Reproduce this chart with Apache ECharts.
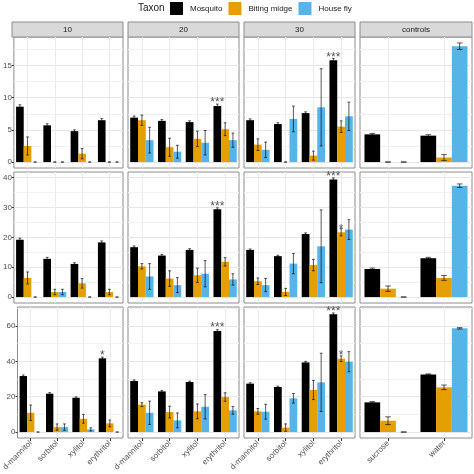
<!DOCTYPE html>
<html>
<head>
<meta charset="utf-8">
<script src="https://cdn.jsdelivr.net/npm/echarts@6/dist/echarts.min.js"></script>
<style>
html, body { margin: 0; padding: 0; background: #fff; }
#chart { width: 474px; height: 474px; }
</style>
</head>
<body>
<div id="chart"></div>
<script>
const taxa = ['Mosquito', 'Biting midge', 'House fly'];
const facets = ['10', '20', '30', 'controls'];
const sugars = ['d-mannitol', 'sorbitol', 'xylitol', 'erythritol'];
const controls = ['sucrose', 'water'];

// order of every array: 10 (4 sugars), 20 (4 sugars), 30 (4 sugars), controls (sucrose, water)
const row1Mosquito   = [8.6, 5.7, 4.8, 6.5,  6.9, 6.4, 6.2, 8.7,  6.5, 5.9, 7.6, 15.8,  4.3, 4.1];
const row1MosquitoSe = [0.3, 0.25, 0.2, 0.25, 0.25, 0.2, 0.2, 0.3, 0.2, 0.2, 0.2, 0.3, 0.15, 0.15];
const row1Midge      = [2.5, 0, 1.3, 0,  6.5, 2.3, 3.6, 5.1,  2.7, 0, 1.0, 5.5,  0, 0.7];
const row1MidgeSe    = [1.4, 0, 0.8, 0,  0.8, 1.4, 1.2, 1.0,  0.9, 0, 0.7, 0.9,  0, 0.45];
const row1Fly        = [0, 0, 0, 0,  3.4, 1.6, 3.0, 3.4,  1.9, 6.7, 8.5, 7.1,  0, 18.0];
const row1FlySe      = [0, 0, 0, 0,  2.0, 1.0, 1.9, 1.1,  1.2, 2.0, 6.0, 2.2,  0, 0.5];

const row2Mosquito   = [19.2, 12.8, 11.1, 18.3,  16.7, 13.9, 15.8, 29.4,  15.8, 13.7, 21.1, 39.4,  9.4, 13.0];
const row2MosquitoSe = [0.5, 0.5, 0.4, 0.5,  0.4, 0.4, 0.4, 0.5,  0.3, 0.3, 0.4, 0.5,  0.3, 0.3];
const row2Midge      = [6.4, 1.7, 4.6, 1.7,  10.3, 6.2, 7.3, 11.8,  5.3, 1.7, 10.7, 21.7,  2.8, 6.4];
const row2MidgeSe    = [2.0, 0.9, 1.6, 0.9,  0.9, 2.6, 2.4, 1.4,  1.1, 1.2, 1.9, 1.2,  0.9, 0.8];
const row2Fly        = [0, 1.7, 0, 0,  6.9, 4.0, 7.8, 5.9,  4.0, 11.2, 17.0, 22.6,  0, 37.3];
const row2FlySe      = [0, 0.9, 0, 0,  4.3, 2.5, 4.4, 1.9,  2.2, 3.4, 12.2, 3.3,  0, 0.6];

const row3Mosquito   = [31.7, 21.7, 19.4, 41.7,  28.9, 23.0, 28.3, 57.2,  27.4, 25.5, 39.4, 66.6,  16.8, 32.6];
const row3MosquitoSe = [0.6, 0.6, 0.5, 0.7,  0.6, 0.6, 0.5, 0.7,  0.5, 0.5, 0.6, 0.8,  0.4, 0.3];
const row3Midge      = [10.9, 2.8, 7.5, 4.9,  15.5, 11.3, 11.7, 19.8,  11.7, 2.5, 23.8, 41.5,  6.4, 25.3];
const row3MidgeSe    = [4.4, 1.8, 2.5, 1.9,  1.1, 3.3, 4.2, 2.4,  1.6, 2.1, 5.4, 1.6,  2.2, 1.3];
const row3Fly        = [0, 2.8, 1.5, 0,  10.9, 6.6, 14.3, 12.3,  11.5, 19.1, 28.1, 39.8,  0, 58.7];
const row3FlySe      = [0, 1.8, 0.9, 0,  6.6, 4.2, 6.9, 2.2,  4.2, 2.7, 16.5, 5.7,  0, 0.4];

// significance marks
const row1MosquitoSig = ['', '', '', '',  '', '', '', '***',  '', '', '', '***',  '', ''];
const row2MosquitoSig = ['', '', '', '',  '', '', '', '***',  '', '', '', '***',  '', ''];
const row3MosquitoSig = ['', '', '', '*',  '', '', '', '***',  '', '', '', '***',  '', ''];
const row2MidgeSig    = ['', '', '', '',  '', '', '', '',  '', '', '', '*',  '', ''];
const row3MidgeSig    = ['', '', '', '',  '', '', '', '',  '', '', '', '*',  '', ''];
const noSig = ['', '', '', '', '', '', '', '', '', '', '', '', '', ''];

const yTicksRow1 = [0, 5, 10, 15];
const yTicksRow2 = [0, 10, 20, 30, 40];
const yTicksRow3 = [0, 20, 40, 60];

const rows = [
    { mean: [row1Mosquito, row1Midge, row1Fly], se: [row1MosquitoSe, row1MidgeSe, row1FlySe], sig: [row1MosquitoSig, noSig, noSig], ticks: yTicksRow1 },
    { mean: [row2Mosquito, row2Midge, row2Fly], se: [row2MosquitoSe, row2MidgeSe, row2FlySe], sig: [row2MosquitoSig, row2MidgeSig, noSig], ticks: yTicksRow2 },
    { mean: [row3Mosquito, row3Midge, row3Fly], se: [row3MosquitoSe, row3MidgeSe, row3FlySe], sig: [row3MosquitoSig, row3MidgeSig, noSig], ticks: yTicksRow3 }
];

const taxonColors = ['#000000', '#E69F00', '#56B4E9'];
const font = "'Liberation Sans', Arial, sans-serif";

// panel layout
const colX = [12, 128, 244, 360];
const panelW = [111, 111, 111, 112];
const rowY = [37, 172, 307];
const panelH = 131;
const facetStart = [0, 4, 8, 12];

let grids = [], xAxes = [], yAxes = [], series = [], graphics = [];

rows.forEach((row, r) => {
    // y range: data range + 5% on both sides
    let top = 0;
    row.mean.forEach((arr, t) => arr.forEach((v, i) => { top = Math.max(top, v + row.se[t][i]); }));
    const yMin = -0.05 * top;
    const yMax = 1.05 * top;
    const step = row.ticks[1] - row.ticks[0];
    const minor = row.ticks.map(v => v + step / 2).filter(v => v <= yMax);

    facets.forEach((f, c) => {
        const g = grids.length;
        const cats = c < 3 ? sugars : controls;
        const from = facetStart[c];
        const to = from + cats.length;

        grids.push({
            left: colX[c], top: rowY[r], width: panelW[c], height: panelH,
            show: true, backgroundColor: '#fff', borderColor: '#8c8c8c', borderWidth: 1
        });

        xAxes.push({
            type: 'category', gridIndex: g, data: cats,
            axisLine: { show: false, onZero: false },
            axisTick: { show: r === 2, alignWithLabel: true, length: 3, lineStyle: { color: '#333' } },
            axisLabel: { show: r === 2, rotate: 45, fontSize: 8, color: '#4d4d4d', margin: 4, fontFamily: font },
            splitLine: { show: true, alignWithLabel: true, lineStyle: { color: '#ebebeb', width: 1 } }
        });

        // main y axis (labels, ticks, major lines)
        const yMain = yAxes.length;
        yAxes.push({
            type: 'value', gridIndex: g, min: yMin, max: yMax,
            axisLine: { show: false },
            axisTick: { show: c === 0, length: 2, customValues: row.ticks, lineStyle: { color: '#333' } },
            axisLabel: { show: c === 0, customValues: row.ticks, fontSize: 8, color: '#4d4d4d', margin: 2, fontFamily: font },
            splitLine: { show: true, lineStyle: { color: '#e6e6e6', width: 1 } }
        });
        // second y axis only for the minor lines
        yAxes.push({
            type: 'value', gridIndex: g, min: yMin, max: yMax, position: 'left',
            axisLine: { show: false },
            axisTick: { show: false, customValues: minor },
            axisLabel: { show: false },
            splitLine: { show: true, lineStyle: { color: '#f2f2f2', width: 1 } }
        });

        const errData = [];
        taxa.forEach((name, t) => {
            const vals = row.mean[t].slice(from, to);
            const ses = row.se[t].slice(from, to);
            const sigs = row.sig[t].slice(from, to);
            series.push({
                type: 'bar', name: name, xAxisIndex: g, yAxisIndex: yMain,
                barWidth: '28%', barGap: '0%',
                itemStyle: { color: taxonColors[t] },
                data: vals.map((v, i) => sigs[i] ? {
                    value: v,
                    label: { show: true, position: 'top', distance: -3, formatter: sigs[i], fontSize: 12, color: '#555', fontFamily: font }
                } : v)
            });
            vals.forEach((v, i) => errData.push([i, v, ses[i], t]));
        });

        // error bars
        series.push({
            type: 'custom', xAxisIndex: g, yAxisIndex: yMain, z: 5,
            data: errData,
            renderItem: function (params, api) {
                const ci = api.value(0), m = api.value(1), e = api.value(2), t = api.value(3);
                const band = api.size([1, 0])[0];
                const x = api.coord([ci, m])[0] + (t - 1) * band * 0.28;
                const y1 = api.coord([ci, m + e])[1];
                const y2 = api.coord([ci, m - e])[1];
                const hw = band * 0.05;
                const st = { stroke: 'rgba(0,0,0,0.65)', lineWidth: 1 };
                return {
                    type: 'group',
                    children: [
                        { type: 'line', shape: { x1: x, y1: y1, x2: x, y2: y2 }, style: st },
                        { type: 'line', shape: { x1: x - hw, y1: y1, x2: x + hw, y2: y1 }, style: st },
                        { type: 'line', shape: { x1: x - hw, y1: y2, x2: x + hw, y2: y2 }, style: st }
                    ]
                };
            }
        });
    });
});

// strips over the top row
facets.forEach((f, c) => {
    graphics.push({
        type: 'rect', shape: { x: colX[c], y: 22, width: panelW[c], height: 15 },
        style: { fill: '#d9d9d9', stroke: '#8c8c8c', lineWidth: 1 }
    });
    graphics.push({
        type: 'text', x: colX[c] + panelW[c] / 2, y: 29.5,
        style: { text: f, fill: '#1a1a1a', fontSize: 8, fontFamily: font, align: 'center', verticalAlign: 'middle' }
    });
});

const chart = echarts.init(document.getElementById('chart'));
chart.setOption({
    animation: false,
    textStyle: { fontFamily: font },
    title: { text: 'Taxon', left: 138, top: 3, padding: 0, textStyle: { fontSize: 10, fontWeight: 'normal', color: '#1a1a1a', fontFamily: font } },
    legend: {
        data: taxa, left: 170, top: 2, padding: 0, icon: 'rect',
        itemWidth: 13, itemHeight: 13, itemGap: 6, selectedMode: false,
        textStyle: { fontSize: 8, color: '#1a1a1a', padding: [0, 0, 0, 2], fontFamily: font }
    },
    grid: grids,
    xAxis: xAxes,
    yAxis: yAxes,
    series: series,
    graphic: graphics
});
</script>
</body>
</html>
